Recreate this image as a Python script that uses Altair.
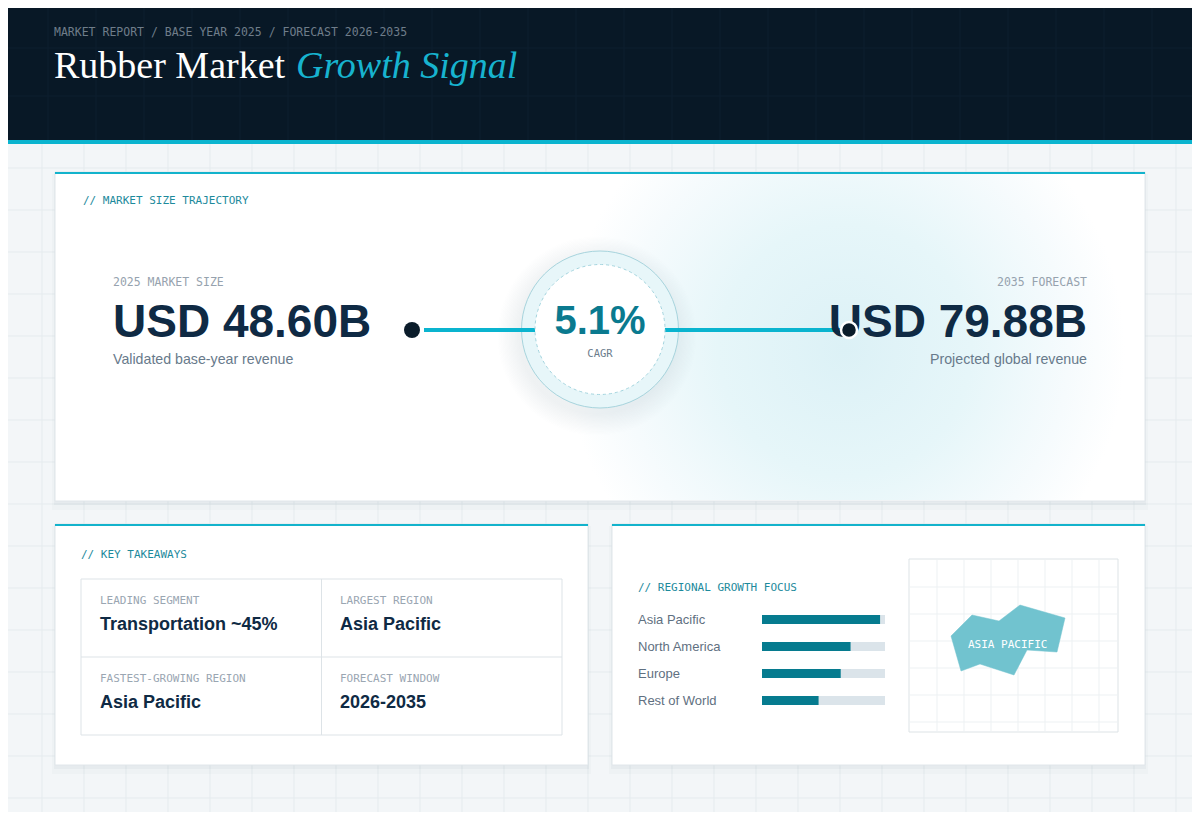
import math
import altair as alt
import pandas as pd

# ---------------- data ----------------
BASE_YEAR = 2025
FORECAST_YEARS = [2026, 2035]
MARKET_SIZE_USD_B = [48.60, 79.88]          # 2025 base year, 2035 forecast
CAGR_PCT = 5.1

TAKEAWAY_LABELS = ["LEADING SEGMENT", "LARGEST REGION", "FASTEST-GROWING REGION", "FORECAST WINDOW"]
TAKEAWAY_VALUES = ["Transportation ~45%", "Asia Pacific", "Asia Pacific", "2026-2035"]

REGIONS = ["Asia Pacific", "North America", "Europe", "Rest of World"]
REGION_GROWTH_SCORE = [96, 72, 64, 46]      # relative growth focus (0-100)

MAP_LABEL = "ASIA PACIFIC"
MAP_SHAPE_X = [42, 63, 90, 111, 156, 148, 118, 105, 71, 52]   # stylised outline (map units)
MAP_SHAPE_Y = [77, 56, 62, 46, 59, 93, 91, 116, 105, 112]

# ---------------- layout (page pixels) ----------------
M, W, H = 8, 1184, 804
PAGE_BG = "#f3f6f8"
INK = "#0f2a44"
CYAN = "#0ab4cf"
TEAL = "#1d8a9c"
MONO = "DejaVu Sans Mono"
SANS = "Liberation Sans"
SERIF = "Liberation Serif"

CARDS = [(55, 172, 1145, 501), (55, 524, 588, 765), (612, 524, 1145, 765)]
TABLE = (81, 579, 562, 735)
MAP_BOX = (909, 559, 1118, 732)
MAP_W, MAP_H = 209, 173


def sx():
    return alt.Scale(domain=[M, M + W], range=[0, W], nice=False, zero=False)


def sy():
    return alt.Scale(domain=[M, M + H], range=[0, H], nice=False, zero=False)


def rect_layer(rows, **mark):
    df = pd.DataFrame(rows, columns=["x0", "y0", "x1", "y1"])
    return alt.Chart(df).mark_rect(**mark).encode(
        x=alt.X("x0:Q", scale=sx(), axis=None), x2="x1:Q",
        y=alt.Y("y0:Q", scale=sy(), axis=None), y2="y1:Q")


def vrules(xs, y0, y1, **mark):
    df = pd.DataFrame({"x": xs, "y0": [y0] * len(xs), "y1": [y1] * len(xs)})
    return alt.Chart(df).mark_rule(**mark).encode(
        x=alt.X("x:Q", scale=sx(), axis=None),
        y=alt.Y("y0:Q", scale=sy(), axis=None), y2="y1:Q")


def hrules(ys, x0, x1, **mark):
    df = pd.DataFrame({"y": ys, "x0": [x0] * len(ys), "x1": [x1] * len(ys)})
    return alt.Chart(df).mark_rule(**mark).encode(
        y=alt.Y("y:Q", scale=sy(), axis=None),
        x=alt.X("x0:Q", scale=sx(), axis=None), x2="x1:Q")


def text_layer(rows, font, align="left", baseline="middle", weight="normal", style="normal"):
    df = pd.DataFrame(rows, columns=["x", "y", "t", "fs", "c"])
    return alt.Chart(df).mark_text(font=font, align=align, baseline=baseline,
                                   fontWeight=weight, fontStyle=style).encode(
        x=alt.X("x:Q", scale=sx(), axis=None),
        y=alt.Y("y:Q", scale=sy(), axis=None),
        text="t:N",
        size=alt.Size("fs:Q", scale=None),
        color=alt.Color("c:N", scale=None))


def circle_layer(x, y, r, **mark):
    # Vega symbol size is the area of the bounding square: (2r)^2
    df = pd.DataFrame({"x": [x], "y": [y]})
    return alt.Chart(df).mark_circle(size=4 * r * r, opacity=1, **mark).encode(
        x=alt.X("x:Q", scale=sx(), axis=None),
        y=alt.Y("y:Q", scale=sy(), axis=None))


layers = []
# page grid
layers.append(vrules(list(range(42, 1192, 42)), 144, 812, color="#e5ebee", strokeWidth=1))
layers.append(hrules(list(range(168, 812, 42)), 8, 1192, color="#e5ebee", strokeWidth=1))
# header
layers.append(rect_layer([(8, 8, 1192, 140)], color="#081826"))
layers.append(vrules(list(range(48, 1192, 48)), 8, 140, color="#0c1f2e", strokeWidth=1))
layers.append(hrules([48, 96], 8, 1192, color="#0c1f2e", strokeWidth=1))
layers.append(rect_layer([(8, 140, 1192, 144)], color=CYAN))

# card shadows + cards
layers.append(rect_layer([(a - 3, b + 2, c + 3, d + 9) for a, b, c, d in CARDS], color="#0b2030", opacity=0.02))
layers.append(rect_layer([(a - 1, b + 1, c + 1, d + 4) for a, b, c, d in CARDS], color="#0b2030", opacity=0.03))
layers.append(rect_layer(CARDS, fill="#ffffff", stroke="#e0e6ea", strokeWidth=1))

# radial glow inside trajectory card
gx0, gy0, gx1, gy1 = 56, 174, 1144, 500
span = max(gx1 - gx0, gy1 - gy0)
cu = 0.5 + (845 - (gx0 + gx1) / 2) / span
cv = 0.5 + (350 - (gy0 + gy1) / 2) / span
glow = alt.RadialGradient(
    gradient="radial",
    stops=[alt.GradientStop(offset=0, color="#dcf1f6"),
           alt.GradientStop(offset=0.45, color="#e6f6f9"),
           alt.GradientStop(offset=0.8, color="#f6fbfd"),
           alt.GradientStop(offset=1, color="#ffffff")],
    x1=cu, y1=cv, r1=0, x2=cu, y2=cv, r2=280 / span)
layers.append(rect_layer([(gx0, gy0, gx1, gy1)], fill=glow))

# cyan top borders
layers.append(rect_layer([(a, b, c, b + 2) for a, b, c, d in CARDS], color="#13b3cc"))

# CAGR circle
shadow = alt.RadialGradient(
    gradient="radial",
    stops=[alt.GradientStop(offset=0, color="rgba(20,60,80,0.08)"),
           alt.GradientStop(offset=0.78, color="rgba(20,60,80,0.07)"),
           alt.GradientStop(offset=1, color="rgba(20,60,80,0)")],
    x1=0.5, y1=0.5, r1=0, x2=0.5, y2=0.5, r2=0.5)
layers.append(circle_layer(597, 336, 100, fill=shadow))
layers.append(circle_layer(600, 329.5, 78.5, fill="#e7f6f9", stroke="#a7d4dd", strokeWidth=1))
layers.append(hrules([330], 424, 848, color=CYAN, strokeWidth=4))
layers.append(circle_layer(600, 329.5, 65, fill="#ffffff", stroke="#a3d4de", strokeWidth=1, strokeDash=[3, 3]))
layers.append(circle_layer(412, 330, 8, fill="#0b1c2a"))

# takeaway table
tx0, ty0, tx1, ty1 = TABLE
layers.append(rect_layer([TABLE], fill="#ffffff", stroke="#dde3e7", strokeWidth=1))
layers.append(vrules([(tx0 + tx1) / 2], ty0, ty1, color="#dde3e7", strokeWidth=1))
layers.append(hrules([(ty0 + ty1) / 2], tx0, tx1, color="#dde3e7", strokeWidth=1))

# map box
layers.append(rect_layer([MAP_BOX], fill="#ffffff", stroke="#dde3e6", strokeWidth=1))

# texts
size_txt = [f"USD {v:.2f}B" for v in MARKET_SIZE_USD_B]
cell_x = [100, 340, 100, 340]
lab_y = [601, 601, 679, 679]
val_y = [630, 630, 708, 708]

mono_left = [
    (54, 33, f"MARKET REPORT / BASE YEAR {BASE_YEAR} / FORECAST {FORECAST_YEARS[0]}-{FORECAST_YEARS[1]}", 11.5, "#6f7d8a"),
    (83, 201, "// MARKET SIZE TRAJECTORY", 11, TEAL),
    (113, 283, f"{BASE_YEAR} MARKET SIZE", 11.5, "#96a2ae"),
    (81, 555, "// KEY TAKEAWAYS", 11, TEAL),
    (638, 588, "// REGIONAL GROWTH FOCUS", 11, TEAL),
] + [(cell_x[i], lab_y[i], TAKEAWAY_LABELS[i], 11, "#9aa6b2") for i in range(4)]
layers.append(text_layer(mono_left, MONO))
layers.append(text_layer([(1087, 283, f"{FORECAST_YEARS[1]} FORECAST", 11.5, "#96a2ae")], MONO, align="right"))
layers.append(text_layer([(600, 354, "CAGR", 10.5, "#6b7c8c")], MONO, align="center"))

layers.append(text_layer([(54, 78, "Rubber Market", 38, "#ffffff")], SERIF, baseline="alphabetic"))
layers.append(text_layer([(296, 78, "Growth Signal", 38, "#17b3cf")], SERIF, baseline="alphabetic", style="italic"))

layers.append(text_layer([(113, 337, size_txt[0], 46, INK)], SANS, baseline="alphabetic", weight="bold"))
layers.append(text_layer([(1087, 337, size_txt[1], 46, INK)], SANS, align="right", baseline="alphabetic", weight="bold"))
layers.append(text_layer([(600, 334, f"{CAGR_PCT:.1f}%", 40, "#0a7a8f")], SANS, align="center", baseline="alphabetic", weight="bold"))
layers.append(text_layer([(113, 360, "Validated base-year revenue", 14.2, "#687a8b")], SANS))
layers.append(text_layer([(1087, 360, "Projected global revenue", 14.2, "#687a8b")], SANS, align="right"))
layers.append(text_layer([(cell_x[i], val_y[i], TAKEAWAY_VALUES[i], 18, INK) for i in range(4)],
                         SANS, baseline="alphabetic", weight="bold"))

# forecast end-point marker sits above the value text
layers.append(circle_layer(849, 330, 8, fill="#0b1c2a", stroke="#ffffff", strokeWidth=2.5))

page_group = alt.layer(*layers)

# ---------------- regional bars ----------------
reg_df = pd.DataFrame({"region": REGIONS, "score": REGION_GROWTH_SCORE})
bx = alt.Scale(domain=[0, 100], range=[762 - M, 885 - M], nice=False, zero=False)
by = alt.Scale(type="band", domain=REGIONS, range=[606 - M, 714 - M], paddingInner=0, paddingOuter=0)
base = alt.Chart(reg_df)
track = base.transform_calculate(full="100").mark_bar(height=9, color="#dbe4ea").encode(
    x=alt.X("full:Q", scale=bx, axis=None),
    y=alt.Y("region:N", scale=by, axis=None, sort=REGIONS))
fill = base.mark_bar(height=9, color="#067b8f").encode(
    x=alt.X("score:Q", scale=bx, axis=None),
    y=alt.Y("region:N", scale=by, axis=None, sort=REGIONS))
labels = base.mark_text(font=SANS, fontSize=13, align="left", baseline="middle", color="#5f7081").encode(
    x=alt.value(638 - M),
    y=alt.Y("region:N", scale=by, axis=None, sort=REGIONS, bandPosition=0.5),
    text="region:N")
bars_group = alt.layer(track, fill, labels)

# ---------------- map ----------------
mx = alt.Scale(domain=[0, MAP_W], range=[MAP_BOX[0] - M, MAP_BOX[2] - M], nice=False, zero=False)
my = alt.Scale(domain=[0, MAP_H], range=[MAP_BOX[1] - M, MAP_BOX[3] - M], nice=False, zero=False)
gv = pd.DataFrame({"g": list(range(28, MAP_W, 27)), "a": 0, "b": MAP_H})
gh = pd.DataFrame({"g": list(range(28, MAP_H, 27)), "a": 0, "b": MAP_W})
map_gv = alt.Chart(gv).mark_rule(color="#edf1f3", strokeWidth=1).encode(
    x=alt.X("g:Q", scale=mx, axis=None), y=alt.Y("a:Q", scale=my, axis=None), y2="b:Q")
map_gh = alt.Chart(gh).mark_rule(color="#edf1f3", strokeWidth=1).encode(
    y=alt.Y("g:Q", scale=my, axis=None), x=alt.X("a:Q", scale=mx, axis=None), x2="b:Q")
shape_df = pd.DataFrame({"i": list(range(len(MAP_SHAPE_X))), "x": MAP_SHAPE_X, "y": MAP_SHAPE_Y})
map_shape = alt.Chart(shape_df).mark_line(interpolate="linear-closed", fill="#71c3cf",
                                          stroke="#71c3cf", strokeWidth=0.5).encode(
    x=alt.X("x:Q", scale=mx, axis=None), y=alt.Y("y:Q", scale=my, axis=None), order="i:Q")
map_label = alt.Chart(pd.DataFrame({"x": [59], "y": [86], "t": [MAP_LABEL]})).mark_text(
    font=MONO, fontSize=11, align="left", baseline="middle", color="#ffffff").encode(
    x=alt.X("x:Q", scale=mx, axis=None), y=alt.Y("y:Q", scale=my, axis=None), text="t:N")
map_group = alt.layer(map_gv, map_gh, map_shape, map_label)

chart = alt.layer(page_group, bars_group, map_group).resolve_scale(
    x="independent", y="independent").properties(
    width=W, height=H, padding=0, background=PAGE_BG,
    autosize=alt.AutoSizeParams(type="none")).configure_view(strokeWidth=0)

chart.save("out.html", embed_options={"renderer": "svg", "actions": False})
